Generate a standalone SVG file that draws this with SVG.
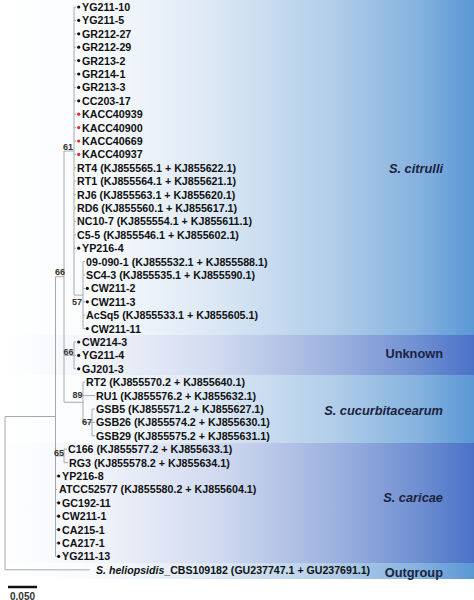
<svg xmlns="http://www.w3.org/2000/svg" width="474" height="600" viewBox="0 0 474 600">
<defs>
<linearGradient id="gl" x1="0" y1="0" x2="474" y2="0" gradientUnits="userSpaceOnUse">
<stop offset="0" stop-color="#ffffff"/><stop offset="0.18" stop-color="#fafcfe"/><stop offset="0.45" stop-color="#dce8f5"/><stop offset="0.7" stop-color="#b2cee9"/><stop offset="0.88" stop-color="#86b3df"/><stop offset="1" stop-color="#5a98d5"/>
</linearGradient>
<linearGradient id="gd" x1="0" y1="0" x2="474" y2="0" gradientUnits="userSpaceOnUse">
<stop offset="0" stop-color="#ffffff"/><stop offset="0.18" stop-color="#f4f6fc"/><stop offset="0.45" stop-color="#d2dbf0"/><stop offset="0.7" stop-color="#9fb3e0"/><stop offset="0.88" stop-color="#7090d2"/><stop offset="1" stop-color="#4a72c6"/>
</linearGradient>
</defs>
<style>
.t{font-family:"Liberation Sans",Arial,sans-serif;font-size:10.7px;font-weight:bold;fill:#111}
.i{font-style:italic}
.bs{font-family:"Liberation Sans",Arial,sans-serif;font-size:9px;font-weight:bold;fill:#333;text-anchor:middle}
.cl{font-family:"Liberation Sans",Arial,sans-serif;font-size:12.8px;font-weight:bold;fill:#1c2340;text-anchor:end}
.br{fill:none;stroke:#a8a8a8;stroke-width:1}
.dk{fill:#111}
.rd{fill:#e3262b}
</style>
<g id="bands">
<rect x="0" y="0" width="474" height="335" fill="url(#gl)"/>
<rect x="0" y="335" width="474" height="40" fill="url(#gd)"/>
<rect x="0" y="375" width="474" height="68" fill="url(#gl)"/>
<rect x="0" y="443" width="474" height="120" fill="url(#gd)"/>
<rect x="0" y="563" width="474" height="16" fill="url(#gl)"/>
</g>
<g id="connectors" class="br">
<path d="M5,416.5V569.8M5,416.5H55.5M5,569.8H90"/>
<path d="M55.5,276.7V556.4M55.5,276.7H64M55.5,455.9H64M55.5,476H57M55.5,489.4H57M55.5,502.8H57M55.5,516.2H57M55.5,529.6H57M55.5,543H57M55.5,556.4H57"/>
<path d="M64,151V402.3M64,151H74M64,355.4H74M64,402.3H83"/>
<path d="M74,7V295.1M74,295.1H83M74,7H76M74,20.4H76M74,33.8H76M74,47.2H76M74,60.6H76M74,74H76M74,87.4H76M74,100.8H76M74,114.2H76M74,127.6H76M74,141H76M74,154.4H76M74,167.8H76M74,181.2H76M74,194.6H76M74,208H76M74,221.4H76M74,234.8H76M74,248.2H76"/>
<path d="M83,261.6V328.6M83,261.6H85M83,275H85M83,288.4H85M83,301.8H85M83,315.2H85M83,328.6H85"/>
<path d="M74,342V368.8M74,342H76M74,355.4H76M74,368.8H76"/>
<path d="M83,382.2V422.4M83,382.2H85M83,395.6H95M83,422.4H92M92,409V435.8M92,409H95M92,422.4H95M92,435.8H95"/>
<path d="M64,449.2V462.6M64,449.2H67M64,462.6H68"/>
</g>
<g id="bootstrap">
<text class="bs" x="68" y="150.2">61</text>
<text class="bs" x="60" y="274.7">66</text>
<text class="bs" x="77" y="304.9">57</text>
<text class="bs" x="68.5" y="355.2">66</text>
<text class="bs" x="77.5" y="398.2">89</text>
<text class="bs" x="87" y="425.2">67</text>
<text class="bs" x="59" y="456.2">65</text>
</g>
<g id="n1"><circle class="dk" cx="78.7" cy="7" r="1.6"/><text class="t" x="82" y="10.9">YG211-10</text></g>
<g id="n2"><circle class="dk" cx="78.7" cy="20.4" r="1.6"/><text class="t" x="82" y="24.3">YG211-5</text></g>
<g id="n3"><circle class="dk" cx="78.7" cy="33.8" r="1.6"/><text class="t" x="82" y="37.7">GR212-27</text></g>
<g id="n4"><circle class="dk" cx="78.7" cy="47.2" r="1.6"/><text class="t" x="82" y="51.1">GR212-29</text></g>
<g id="n5"><circle class="dk" cx="78.7" cy="60.6" r="1.6"/><text class="t" x="82" y="64.5">GR213-2</text></g>
<g id="n6"><circle class="dk" cx="78.7" cy="74" r="1.6"/><text class="t" x="82" y="77.9">GR214-1</text></g>
<g id="n7"><circle class="dk" cx="78.7" cy="87.4" r="1.6"/><text class="t" x="82" y="91.3">GR213-3</text></g>
<g id="n8"><circle class="dk" cx="78.7" cy="100.8" r="1.6"/><text class="t" x="82" y="104.7">CC203-17</text></g>
<g id="n9"><circle class="rd" cx="78.7" cy="114.2" r="1.6"/><text class="t" x="82" y="118.1">KACC40939</text></g>
<g id="n10"><circle class="rd" cx="78.7" cy="127.6" r="1.6"/><text class="t" x="82" y="131.5">KACC40900</text></g>
<g id="n11"><circle class="rd" cx="78.7" cy="141" r="1.6"/><text class="t" x="82" y="144.9">KACC40669</text></g>
<g id="n12"><circle class="rd" cx="78.7" cy="154.4" r="1.6"/><text class="t" x="82" y="158.3">KACC40937</text></g>
<g id="n13"><text class="t" x="77" y="171.7">RT4 (KJ855565.1 + KJ855622.1)</text></g>
<g id="n14"><text class="t" x="77" y="185.1">RT1 (KJ855564.1 + KJ855621.1)</text></g>
<g id="n15"><text class="t" x="77" y="198.5">RJ6 (KJ855563.1 + KJ855620.1)</text></g>
<g id="n16"><text class="t" x="77" y="211.9">RD6 (KJ855560.1 + KJ855617.1)</text></g>
<g id="n17"><text class="t" x="77" y="225.3">NC10-7 (KJ855554.1 + KJ855611.1)</text></g>
<g id="n18"><text class="t" x="77" y="238.7">C5-5 (KJ855546.1 + KJ855602.1)</text></g>
<g id="n19"><circle class="dk" cx="78.7" cy="248.2" r="1.6"/><text class="t" x="82" y="252.1">YP216-4</text></g>
<g id="n20"><text class="t" x="86" y="265.5">09-090-1 (KJ855532.1 + KJ855588.1)</text></g>
<g id="n21"><text class="t" x="86" y="278.9">SC4-3 (KJ855535.1 + KJ855590.1)</text></g>
<g id="n22"><circle class="dk" cx="87.3" cy="288.4" r="1.6"/><text class="t" x="91" y="292.3">CW211-2</text></g>
<g id="n23"><circle class="dk" cx="87.3" cy="301.8" r="1.6"/><text class="t" x="91" y="305.7">CW211-3</text></g>
<g id="n24"><text class="t" x="86" y="319.1">AcSq5 (KJ855533.1 + KJ855605.1)</text></g>
<g id="n25"><circle class="dk" cx="87.3" cy="328.6" r="1.6"/><text class="t" x="91" y="332.5">CW211-11</text></g>
<g id="n26"><circle class="dk" cx="78.7" cy="342" r="1.6"/><text class="t" x="82" y="345.9">CW214-3</text></g>
<g id="n27"><circle class="dk" cx="78.7" cy="355.4" r="1.6"/><text class="t" x="82" y="359.3">YG211-4</text></g>
<g id="n28"><circle class="dk" cx="78.7" cy="368.8" r="1.6"/><text class="t" x="82" y="372.7">GJ201-3</text></g>
<g id="n29"><text class="t" x="86" y="386.1">RT2 (KJ855570.2 + KJ855640.1)</text></g>
<g id="n30"><text class="t" x="96" y="399.5">RU1 (KJ855576.2 + KJ855632.1)</text></g>
<g id="n31"><text class="t" x="96" y="412.9">GSB5 (KJ855571.2 + KJ855627.1)</text></g>
<g id="n32"><text class="t" x="96" y="426.3">GSB26 (KJ855574.2 + KJ855630.1)</text></g>
<g id="n33"><text class="t" x="96" y="439.7">GSB29 (KJ855575.2 + KJ855631.1)</text></g>
<g id="n34"><text class="t" x="68" y="453.1">C166 (KJ855577.2 + KJ855633.1)</text></g>
<g id="n35"><text class="t" x="69" y="466.5">RG3 (KJ855578.2 + KJ855634.1)</text></g>
<g id="n36"><circle class="dk" cx="58.7" cy="476" r="1.6"/><text class="t" x="62" y="479.9">YP216-8</text></g>
<g id="n37"><text class="t" x="59" y="493.3">ATCC52577 (KJ855580.2 + KJ855604.1)</text></g>
<g id="n38"><circle class="dk" cx="58.7" cy="502.8" r="1.6"/><text class="t" x="62" y="506.7">GC192-11</text></g>
<g id="n39"><circle class="dk" cx="58.7" cy="516.2" r="1.6"/><text class="t" x="62" y="520.1">CW211-1</text></g>
<g id="n40"><circle class="dk" cx="58.7" cy="529.6" r="1.6"/><text class="t" x="62" y="533.5">CA215-1</text></g>
<g id="n41"><circle class="dk" cx="58.7" cy="543" r="1.6"/><text class="t" x="62" y="546.9">CA217-1</text></g>
<g id="n42"><circle class="dk" cx="58.7" cy="556.4" r="1.6"/><text class="t" x="62" y="560.3">YG211-13</text></g>
<g id="n43"><text class="t" x="96" y="573.7" style="font-size:10.6px"><tspan class="i">S. heliopsidis</tspan>_CBS109182 (GU237747.1 + GU237691.1)</text></g>
<g id="clades">
<text class="cl i" x="443" y="172.6">S. citrulli</text>
<text class="cl" x="443" y="357.6">Unknown</text>
<text class="cl i" x="443" y="414.6">S. cucurbitacearum</text>
<text class="cl i" x="443" y="501.6">S. caricae</text>
<text class="cl" x="443" y="576.6">Outgroup</text>
</g>
<g id="scale">
<line x1="8" y1="587" x2="37" y2="587" stroke="#111" stroke-width="2.5"/>
<text x="22.5" y="599.5" style="font-family:'Liberation Sans',Arial,sans-serif;font-size:10px;font-weight:bold;fill:#333;text-anchor:middle">0.050</text>
</g>
</svg>
